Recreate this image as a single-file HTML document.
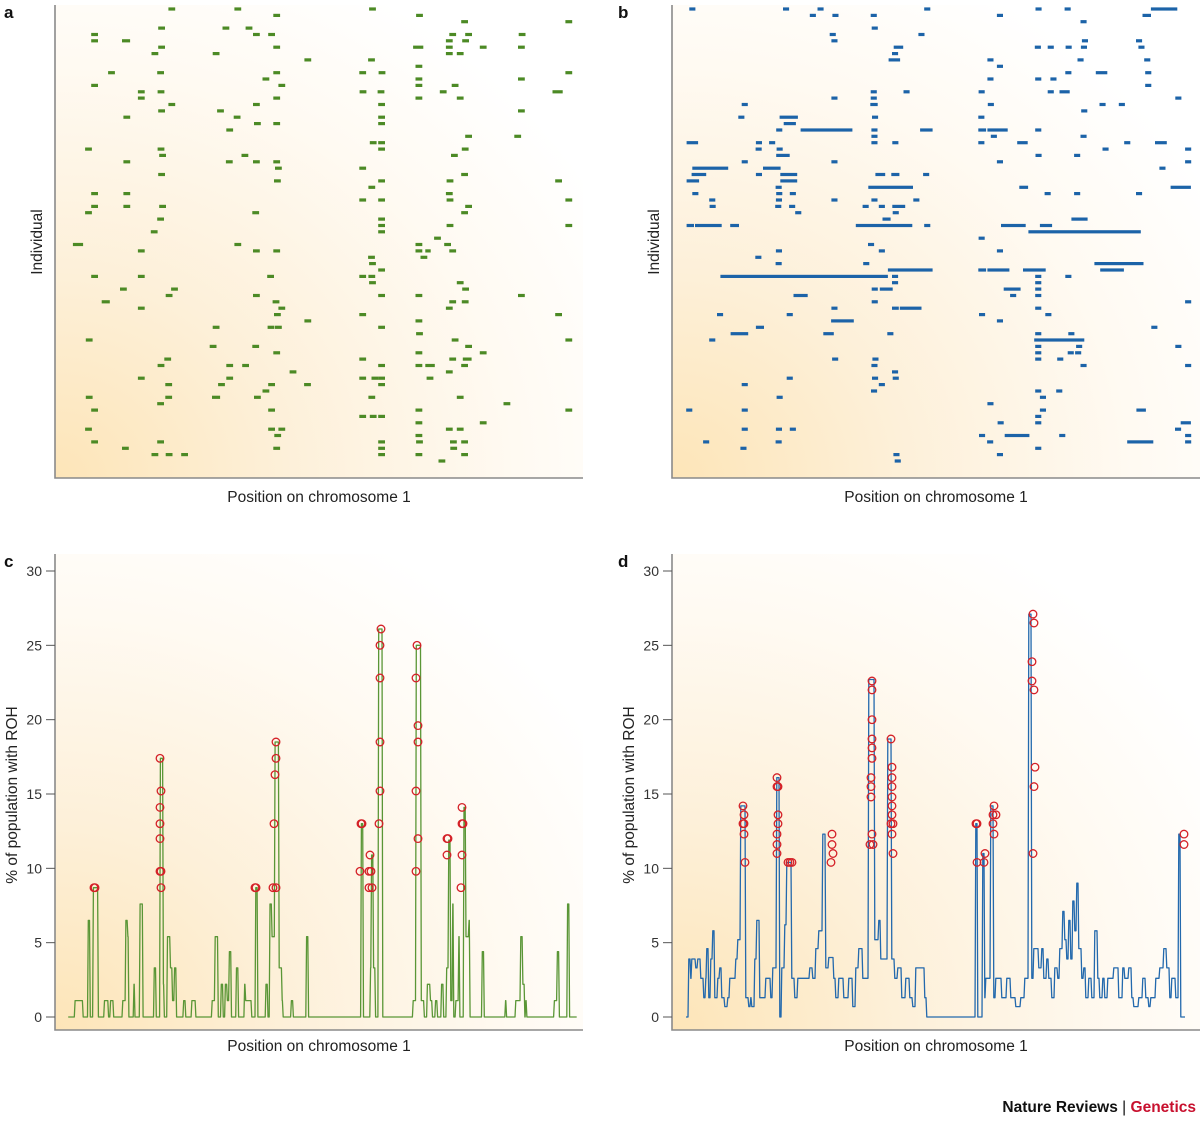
<!DOCTYPE html>
<html><head><meta charset="utf-8"><style>
html,body{margin:0;padding:0;background:#fff;}
body{width:1200px;height:1116px;position:relative;overflow:hidden;font-family:"Liberation Sans",sans-serif;}
svg text{font-family:"Liberation Sans",sans-serif;}
</style></head><body>
<svg id="fig" width="1200" height="1116" viewBox="0 0 1200 1116" xmlns="http://www.w3.org/2000/svg">
<defs>
<radialGradient id="bg" cx="0" cy="1" r="1.25" gradientUnits="objectBoundingBox">
<stop offset="0" stop-color="#fde5b8"/>
<stop offset="0.35" stop-color="#fdf0d9"/>
<stop offset="0.7" stop-color="#fffaf2"/>
<stop offset="0.95" stop-color="#ffffff"/>
</radialGradient>
</defs>
<rect x="55" y="5" width="528" height="473" fill="url(#bg)"/>
<rect x="672" y="5" width="528" height="473" fill="url(#bg)"/>
<rect x="55" y="554" width="528" height="476" fill="url(#bg)"/>
<rect x="672" y="554" width="528" height="476" fill="url(#bg)"/>
<g id="layer"></g>
<text x="4" y="18" font-size="17" font-weight="bold" fill="#111">a</text>
<text x="618" y="18" font-size="17" font-weight="bold" fill="#111">b</text>
<text x="4" y="567" font-size="17" font-weight="bold" fill="#111">c</text>
<text x="618" y="567" font-size="17" font-weight="bold" fill="#111">d</text>
<text x="319" y="502" font-size="15.5" text-anchor="middle" fill="#222">Position on chromosome 1</text>
<text x="936" y="502" font-size="15.5" text-anchor="middle" fill="#222">Position on chromosome 1</text>
<text x="319" y="1051" font-size="15.5" text-anchor="middle" fill="#222">Position on chromosome 1</text>
<text x="936" y="1051" font-size="15.5" text-anchor="middle" fill="#222">Position on chromosome 1</text>
<text transform="translate(42,242) rotate(-90)" font-size="15.5" text-anchor="middle" fill="#222">Individual</text>
<text transform="translate(659,242) rotate(-90)" font-size="15.5" text-anchor="middle" fill="#222">Individual</text>
<text transform="translate(17,795) rotate(-90)" font-size="15.5" text-anchor="middle" fill="#222">% of population with ROH</text>
<text transform="translate(634,795) rotate(-90)" font-size="15.5" text-anchor="middle" fill="#222">% of population with ROH</text>
<text x="1196" y="1112" font-size="15.5" font-weight="bold" text-anchor="end" fill="#111">Nature Reviews <tspan fill="#111" font-weight="normal">|</tspan> <tspan fill="#c8102e">Genetics</tspan></text>
</svg>
<script>
// ---------- panel a / b data: [individual row, start position, end position] ----------
var aSegments = [
[0,335,355],[0,530,550],[0,928,948],[1,645,665],[1,1067,1087],[2,1200,1220],[2,1508,1528],
[3,305,325],[3,495,515],[3,563,583],[4,107,127],[4,585,605],[4,630,650],[4,1165,1185],[4,1212,1232],[4,1370,1390],
[5,107,127],[5,198,222],[5,1155,1175],[5,1203,1223],[6,305,325],[6,645,665],[6,1058,1088],[6,1155,1175],[6,1255,1275],[6,1368,1388],
[7,285,305],[7,466,486],[7,1155,1175],[7,1187,1207],[8,737,757],[8,925,945],[9,1065,1085],
[10,157,177],[10,302,322],[10,645,665],[10,899,919],[10,956,976],[10,1508,1528],[11,613,633],[11,1065,1085],[11,1368,1388],
[12,107,127],[12,660,680],[12,1065,1085],[12,1172,1192],[13,245,265],[13,303,323],[13,900,920],[13,953,973],[13,1137,1157],[13,1470,1500],
[14,245,265],[14,645,665],[14,1065,1085],[14,1187,1207],[15,335,355],[15,585,605],[15,955,975],[16,305,325],[16,479,499],[16,1368,1388],
[17,202,222],[17,528,548],[17,955,975],[18,588,608],[18,645,665],[18,955,975],[19,506,526],[20,1212,1232],[20,1357,1377],
[21,930,950],[21,955,975],[22,89,109],[22,303,323],[22,955,975],[22,1202,1222],[23,308,328],[23,551,571],[23,1170,1190],
[24,202,222],[24,505,525],[24,585,605],[24,645,665],[25,650,670],[25,899,919],[26,305,325],[26,1200,1220],
[27,647,667],[27,955,975],[27,1157,1177],[27,1478,1498],[28,926,946],[29,107,127],[29,202,222],[29,1155,1175],
[30,899,919],[30,955,975],[30,1157,1177],[30,1508,1528],[31,107,127],[31,202,222],[31,308,328],[31,1212,1232],
[32,89,109],[32,583,603],[32,1200,1220],[33,302,322],[33,955,975],[34,955,975],[34,1157,1177],[34,1508,1528],[35,283,303],[35,955,975],[36,1120,1140],
[37,53,83],[37,530,550],[37,1065,1085],[37,1150,1170],[38,245,265],[38,585,605],[38,645,665],[38,1065,1085],[38,1094,1110],[38,1165,1185],
[39,925,945],[39,1080,1100],[40,928,948],[41,955,975],[42,107,127],[42,245,265],[42,627,647],[42,899,919],[42,926,946],
[43,928,948],[43,1187,1207],[44,192,212],[44,343,363],[44,1203,1223],[45,327,347],[45,585,605],[45,955,975],[45,1065,1085],[45,1368,1388],
[46,138,162],[46,643,663],[46,1165,1185],[46,1202,1222],[47,245,265],[47,660,680],[47,1155,1175],[48,647,667],[48,899,919],[48,1478,1498],
[49,737,757],[49,1065,1085],[50,466,486],[50,628,648],[50,650,670],[50,955,975],[51,1067,1087],[52,91,111],[52,1172,1192],[52,1508,1528],
[53,457,477],[53,583,603],[53,1212,1232],[54,645,665],[54,1065,1085],[54,1255,1275],[55,323,343],[55,899,919],[55,1165,1185],[55,1205,1231],
[56,303,323],[56,506,526],[56,553,573],[56,955,975],[56,1065,1085],[56,1094,1122],[56,1200,1220],[57,693,713],[57,1155,1175],
[58,245,265],[58,506,526],[58,899,919],[58,935,955],[58,955,975],[58,1098,1118],[59,326,346],[59,482,502],[59,630,650],[59,736,756],[59,955,975],
[60,613,633],[61,91,111],[61,326,346],[61,464,488],[61,588,608],[61,926,946],[61,1187,1207],[62,302,322],[62,1325,1345],
[63,107,127],[63,630,650],[63,1065,1085],[63,1508,1528],[64,899,919],[64,930,950],[64,955,975],[65,1065,1085],[65,1255,1275],
[66,89,109],[66,630,650],[66,660,680],[66,1155,1175],[66,1187,1207],[67,648,668],[67,1065,1085],
[68,107,127],[68,302,322],[68,955,975],[68,1067,1087],[68,1167,1187],[68,1200,1220],[69,198,218],[69,645,665],[69,955,975],[69,1168,1188],
[70,285,305],[70,327,347],[70,373,393],[70,955,975],[70,1065,1085],[70,1200,1220],[71,1133,1153]
];
var bSegments = [
[0,51,69],[0,328,346],[0,430,448],[0,745,763],[0,1074,1092],[0,1160,1178],[0,1415,1493],
[1,407,425],[1,474,492],[1,587,605],[1,960,978],[1,1390,1415],[2,1207,1225],[3,590,608],[4,466,484],[4,728,746],
[5,471,489],[5,1211,1229],[5,1371,1389],[6,655,683],[6,1072,1090],[6,1110,1128],[6,1163,1181],[6,1208,1226],[6,1378,1396],
[7,650,668],[8,640,674],[8,932,950],[8,1198,1216],[8,1395,1413],[9,960,978],
[10,1162,1180],[10,1252,1286],[10,1398,1416],[11,932,950],[11,1073,1091],[11,1118,1136],[12,1398,1416],
[13,587,605],[13,684,702],[13,906,924],[13,1110,1128],[13,1145,1175],[14,471,489],[14,587,605],[14,1487,1505],
[15,206,224],[15,586,608],[15,933,951],[15,1263,1281],[15,1320,1338],[16,1209,1227],
[17,196,214],[17,318,372],[17,591,609],[17,905,923],[18,330,366],
[19,308,326],[19,380,533],[19,589,607],[19,733,770],[19,905,928],[19,932,992],[19,1073,1091],[20,589,607],[20,942,960],[20,1207,1225],
[21,43,77],[21,248,266],[21,287,305],[21,589,607],[21,651,669],[21,905,923],[21,1020,1051],[21,1336,1354],[21,1427,1462],
[22,247,265],[22,309,327],[22,1272,1290],[22,1516,1534],[23,308,348],[23,1074,1092],[23,1188,1206],
[24,206,224],[24,471,489],[24,960,978],[24,1516,1534],[25,60,166],[25,269,321],[25,1440,1458],
[26,58,101],[26,248,266],[26,320,370],[26,601,630],[26,648,672],[26,742,760],[27,43,80],[27,320,370],
[28,306,324],[28,580,712],[28,1026,1052],[28,1473,1533],
[29,60,78],[29,308,326],[29,348,366],[29,1101,1119],[29,1188,1206],[29,1371,1389],
[30,110,128],[30,307,325],[30,471,489],[30,589,607],[30,713,731],
[31,111,129],[31,305,323],[31,346,364],[31,563,581],[31,611,629],[31,651,689],[32,364,382],[32,652,670],
[33,622,646],[33,1180,1228],[34,43,65],[34,68,147],[34,172,198],[34,543,710],[34,745,763],[34,972,1045],[34,1087,1123],
[35,1053,1385],[36,906,924],[37,579,597],[38,307,325],[38,611,629],[38,960,978],[39,246,264],
[40,306,324],[40,565,583],[40,1248,1393],[41,638,770],[41,905,928],[41,932,997],[41,1037,1104],[41,1265,1335],
[42,143,638],[42,650,668],[42,1073,1091],[42,1162,1180],[43,650,668],[43,1073,1091],
[44,590,608],[44,614,652],[44,980,1030],[44,1073,1091],[45,359,401],[45,999,1017],[45,1073,1091],
[46,590,608],[46,1516,1534],[47,471,489],[47,650,670],[47,673,737],[47,1073,1091],
[48,133,151],[48,339,357],[48,907,925],[48,1103,1121],[49,470,537],[49,960,978],[50,248,272],[50,1416,1434],
[51,173,225],[51,447,478],[51,636,654],[51,1073,1091],[51,1171,1189],[52,110,128],[52,1070,1218],
[53,1073,1091],[53,1194,1212],[53,1487,1505],[54,1073,1091],[54,1169,1187],[54,1191,1209],
[55,473,491],[55,592,610],[55,1073,1091],[55,1138,1156],[56,589,607],[56,1207,1225],[56,1516,1534],[57,650,668],
[58,339,357],[58,591,609],[58,652,670],[59,206,224],[59,611,629],[60,588,606],[60,1073,1091],[60,1135,1153],
[61,309,327],[61,1087,1105],[62,932,950],[63,42,60],[63,206,224],[63,1087,1105],[63,1372,1400],[64,1073,1091],
[65,962,980],[65,1073,1091],[65,1503,1533],[66,206,224],[66,307,325],[66,348,366],[66,1486,1504],
[67,907,925],[67,983,1056],[67,1144,1162],[67,1516,1534],[68,92,110],[68,306,324],[68,931,949],[68,1345,1422],[68,1516,1534],
[69,202,220],[69,1073,1091],[70,654,672],[70,960,978],[71,658,676]
];
// ---------- panel c data: [position along chromosome, % ROH] ----------
var cSteps = [[13,0],[19,1.1],[27,0],[32,6.5],[34,0],[37,8.7],[42,0],[48,1.1],[52,0],[54,1.1],[57,0],[66,1.1],[69,6.5],[71,5.4],[72,0],[77,2.2],[78,0],[83,7.6],[86,0],[97,3.3],[99,0],[103,17.4],[106,2.2],[107,0],[110,5.4],[113,3.3],[115,1.1],[117,3.3],[119,0],[126,1.1],[128,0],[134,1.1],[138,0],[154,1.1],[157,5.4],[160,0],[163,2.2],[165,0],[167,2.2],[169,1.1],[171,4.4],[173,0],[178,3.3],[180,0],[186,2.2],[187,1.1],[193,0],[197,8.7],[199,0],[207,2.2],[209,0],[211,7.6],[213,5.4],[216,18.5],[220,3.3],[223,1.1],[224,0],[232,1.1],[234,0],[247,5.4],[249,0],[301,13],[303,0],[310,3.3],[311,10.9],[313,3.3],[315,0],[318,26.1],[322,0],[352,1.1],[355,25],[360,1.1],[363,0],[366,2.2],[369,1.1],[371,0],[374,1.1],[376,0],[380,2.2],[382,0],[385,3.3],[387,11.9],[389,1.1],[391,7.6],[392,0],[394,1.1],[397,5.4],[398,0],[402,14.1],[404,5.4],[407,6.5],[408,0],[420,4.4],[422,0],[443,1.1],[444,0],[453,1.1],[458,5.4],[460,2.2],[462,0],[463,1.1],[464,0],[491,1.1],[494,4.4],[496,0],[504,7.6],[506,0],[513,0]];
var cCircPos = [39,40,105,106,105,105,105,105,106,106,200,201,221,221,220,219,218,221,306,307,305,315,314,316,314,317,326,325,325,325,325,324,362,361,363,363,361,363,361,392,393,392,407,407,408,407,406];
var cCircVal = [8.7,8.7,17.4,15.2,14.1,13,12,9.8,9.8,8.7,8.7,8.7,18.5,17.4,16.3,13,8.7,8.7,13,13,9.8,10.9,9.8,9.8,8.7,8.7,26.1,25,22.8,18.5,15.2,13,25,22.8,19.6,18.5,15.2,12,9.8,12,12,10.9,14.1,13,13,10.9,8.7];
// ---------- panel d data ----------
var dPos = [14,16,18,19,23,25,28,31,33,34,36,38,40,42,45,47,49,52,55,57,60,63,65,68,73,76,78,79,82,84,87,90,93,98,100,104,107,109,112,114,119,122,125,128,134,137,140,143,146,150,153,156,161,163,166,171,176,180,183,186,190,196,202,206,208,212,215,219,222,225,229,233,237,240,243,248,252,254,303,305,310,312,313,316,318,321,323,327,329,334,338,343,348,352,356,359,361,366,369,371,374,376,379,382,385,387,390,392,394,396,398,400,402,404,406,409,411,413,416,419,422,425,427,430,432,435,438,441,446,450,452,456,459,461,466,468,470,473,476,478,480,483,487,491,494,497,499,501,503,506,508,510,513,514];
var dVal = [0,3.9,2.6,3.9,3.3,3.9,2.6,1.3,2.6,4.6,1.3,3.9,5.8,1.3,2.6,3.3,1.3,0.7,1.3,2.6,2.6,3.9,5.2,14.2,1.3,0.7,1.3,0.7,3.9,6.5,1.3,1.3,2.6,1.3,3.3,16.1,0,3.3,6.2,10.4,2.6,1.3,2.6,2.6,2.6,3.3,2.6,4.6,5.8,12.3,3.3,4,2.6,1.3,2.6,1.3,2.6,0.7,3.3,4.6,2.6,22.7,5.2,6.5,3.9,3.9,18.7,3.9,2.6,3.3,1.3,2.6,1.3,0.7,3.3,3.3,1.3,0,13,0,11,1.3,2.6,2.6,14.2,1.3,2.6,2.6,1.3,2.6,1.3,0.7,1.3,2.6,27.1,2.6,4.6,3.3,4.6,2.6,3.9,2.6,1.3,3.3,2.6,4.6,7.1,5.2,3.9,6.5,3.9,7.8,5.8,9,4.6,2.6,3.3,1.3,2.6,1.3,5.8,2.6,1.3,2.6,1.3,2.6,2.6,3.3,1.3,3.3,2.6,3.3,1.3,0.7,1.3,1.3,2.6,1.3,0.7,1.3,1.3,2.6,3.3,4.6,3.3,1.3,2.6,2.6,1.3,12.3,0,0];
var dCircPos = [71,72,71,72,72,73,105,105,106,106,106,105,105,105,116,118,120,160,160,161,159,200,200,200,200,200,200,199,199,199,200,198,201,219,220,220,220,220,220,220,219,221,220,221,304,305,305,313,312,322,321,324,321,322,361,362,360,360,362,363,362,361,512,512];
var dCircVal = [14.2,13.6,13,13,12.3,10.4,16.1,15.5,15.5,13.6,13,12.3,11.6,11,10.4,10.4,10.4,12.3,11.6,11,10.4,22.6,22,20,18.7,18.1,17.4,16.1,15.5,14.8,12.3,11.6,11.6,18.7,16.8,16.1,15.5,14.8,14.2,13.6,13,13,12.3,11,13,13,10.4,11,10.4,14.2,13.6,13.6,13,12.3,27.1,26.5,23.9,22.6,22,16.8,15.5,11,12.3,11.6];
var yTicks = [0,5,10,15,20,25,30];
var cPosDomain = [0, 520];
var dPosDomain = [0, 528];
var segDomain = [0, 1560];
var rowDomain = [0, 71];

var NS = 'http://www.w3.org/2000/svg';
var layer = document.getElementById('layer');
function mk(tag, attrs, parent) {
  var e = document.createElementNS(NS, tag);
  for (var k in attrs) e.setAttribute(k, attrs[k]);
  (parent || layer).appendChild(e);
  return e;
}
function linScale(d0, d1, r0, r1) { return function (v) { return r0 + (v - d0) / (d1 - d0) * (r1 - r0); }; }

function drawSegments(segs, x0, color, name) {
  var g = mk('g', {});
  
  
  var xs = linScale(segDomain[0], segDomain[1], x0, x0 + 528);
  var ys = linScale(rowDomain[0], rowDomain[1], 9, 461);
  segs.forEach(function (s) {
    var r = mk('rect', { x: xs(s[1]).toFixed(1), y: (ys(s[0]) - 1.6).toFixed(1), width: (xs(s[2]) - xs(s[1])).toFixed(1), height: 3.2, fill: color }, g);
    
    
  });
}
function drawAxes(x0, top, bottom, name) {
  var a = mk('path', { d: 'M' + x0 + ',' + top + ' V' + bottom + ' H' + (x0 + 528), fill: 'none', stroke: '#8a8a8a', 'stroke-width': 1.6 });
  
  
}
function drawLineChart(pos, val, cpos, cval, x0, dom, color, name) {
  var xs = linScale(dom[0], dom[1], x0, x0 + 528);
  var ys = linScale(0, 30, 1017, 571);
  yTicks.forEach(function (t) {
    var tk = mk('line', { x1: x0 - 9, x2: x0, y1: ys(t), y2: ys(t), stroke: '#555', 'stroke-width': 1 });
    
    
    var tl = mk('text', { x: x0 - 13, y: ys(t) + 5, 'font-size': 14, 'text-anchor': 'end', fill: '#333' });
    tl.textContent = String(t);
    
    
  });
  var d = 'M' + xs(pos[0]).toFixed(1) + ',' + ys(val[0]).toFixed(1);
  for (var i = 1; i < pos.length; i++) {
    d += ' L' + xs(pos[i]).toFixed(1) + ',' + ys(val[i - 1]).toFixed(1) + ' L' + (xs(pos[i]) + 0.8).toFixed(1) + ',' + ys(val[i]).toFixed(1);
  }
  var p = mk('path', { d: d, fill: 'none', stroke: color, 'stroke-width': 1.3, 'stroke-linejoin': 'round' });
  
  
  var cxs = linScale(0, 528, x0, x0 + 528);
  for (var j = 0; j < cpos.length; j++) {
    var c = mk('circle', { cx: cxs(cpos[j]).toFixed(1), cy: ys(cval[j]).toFixed(1), r: 3.8, fill: 'none', stroke: '#d42027', 'stroke-width': 1.3 });
    
    
  }
}
drawSegments(aSegments, 55, '#4c8a25', 'panel-a');
drawSegments(bSegments, 672, '#1c63a8', 'panel-b');
drawAxes(55, 5, 478, 'panel-a');
drawAxes(672, 5, 478, 'panel-b');
drawAxes(55, 554, 1030, 'panel-c');
drawAxes(672, 554, 1030, 'panel-d');
var cPos = cSteps.map(function (s) { return s[0]; });
var cVal = cSteps.map(function (s) { return s[1]; });
drawLineChart(cPos, cVal, cCircPos, cCircVal, 55, cPosDomain, '#5a9636', 'panel-c');
drawLineChart(dPos, dVal, dCircPos, dCircVal, 672, dPosDomain, '#2369ad', 'panel-d');
</script>
</body></html>
